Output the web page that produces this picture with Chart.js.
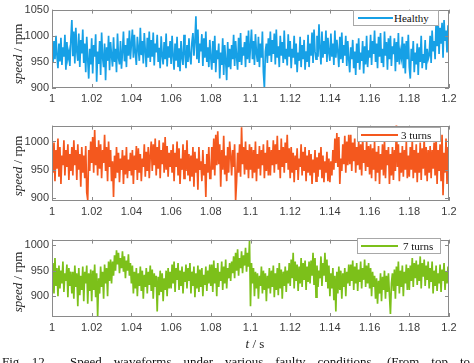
<!DOCTYPE html>
<html>
<head>
<meta charset="utf-8">
<script src="https://cdn.jsdelivr.net/npm/chart.js@4.4.1/dist/chart.umd.min.js"></script>
<style>
html,body{margin:0;padding:0;background:#fff;}
body{width:474px;height:363px;overflow:hidden;position:relative;}
canvas{position:absolute;left:0;display:block;}
.ylab{position:absolute;font-family:"Liberation Serif","Times New Roman",serif;font-size:13px;color:#222;white-space:nowrap;transform:translate(-50%,-50%) rotate(-90deg);}
.leg{position:absolute;background:#fff;border:1px solid #a8a8a8;box-sizing:border-box;}
.leg .ln{position:absolute;height:2px;}
.leg .tx{position:absolute;font-family:"Liberation Serif","Times New Roman",serif;font-size:11px;color:#111;white-space:nowrap;line-height:11px;}
.xlab{position:absolute;font-family:"Liberation Serif","Times New Roman",serif;font-size:13px;color:#222;white-space:nowrap;transform:translate(-50%,-50%);}
.cap{position:absolute;font-family:"Liberation Serif","Times New Roman",serif;font-size:13px;color:#111;white-space:nowrap;line-height:13px;}
</style>
</head>
<body>
<canvas id="c1" width="474" height="112" style="top:0px"></canvas>
<canvas id="c2" width="474" height="109" style="top:116px"></canvas>
<canvas id="c3" width="474" height="111" style="top:230px"></canvas>

<div class="ylab" style="left:18px;top:54px"><i>speed</i> / rpm</div>
<div class="ylab" style="left:18px;top:166px"><i>speed</i> / rpm</div>
<div class="ylab" style="left:18px;top:282px"><i>speed</i> / rpm</div>

<div class="leg" style="left:353px;top:10px;width:86px;height:16px">
  <div class="ln" style="left:4px;top:6px;width:35px;background:#16a0e6"></div>
  <div class="tx" style="left:40px;top:2px">Healthy</div>
</div>
<div class="leg" style="left:357px;top:127px;width:84px;height:15px">
  <div class="ln" style="left:3px;top:6px;width:37px;background:#f4581e"></div>
  <div class="tx" style="left:43px;top:2px">3 turns</div>
</div>
<div class="leg" style="left:357px;top:238px;width:84px;height:16px">
  <div class="ln" style="left:3px;top:6px;width:37px;background:#7cc01a"></div>
  <div class="tx" style="left:45px;top:2px">7 turns</div>
</div>

<div class="xlab" style="left:255px;top:344px"><i>t</i> / s</div>
<div class="cap" style="left:2px;top:355px;word-spacing:6px">Fig. 12</div>
<div class="cap" id="capMain" style="left:70px;top:355px">Speed waveforms under various faulty conditions. (From top to</div>

<script>
// ---- data ----
const t0 = 1.0, dt = 0.0005, nSamples = 401;
const xTickValues = [1, 1.02, 1.04, 1.06, 1.08, 1.1, 1.12, 1.14, 1.16, 1.18, 1.2];
const xTickLabels = ['1', '1.02', '1.04', '1.06', '1.08', '1.1', '1.12', '1.14', '1.16', '1.18', '1.2'];
const seriesNames = ['Healthy', '3 turns', '7 turns'];
const yTicksHealthy = [900, 950, 1000, 1050];
const yTicks3 = [900, 950, 1000];
const yTicks7 = [900, 950, 1000];

const healthy = [
 972,948,990,955,1000,962,938,985,951,996,944,978,960,1002,935,988,957,969,942,993,
 1030,961,1008,947,1015,970,952,1004,940,992,966,1012,948,985,930,998,955,918,975,945,
 995,928,982,960,1003,912,970,946,990,925,1006,958,940,985,915,978,952,1000,934,988,
 962,941,997,950,975,930,1004,958,945,990,937,968,1008,951,982,940,995,962,1010,955,
 985,1012,958,1002,966,944,998,975,952,1015,963,990,947,1005,971,940,996,958,1008,950,
 992,960,1006,943,985,968,1002,950,977,938,999,962,945,988,955,1004,941,980,958,990,
 946,1000,961,935,985,952,998,940,976,932,990,958,944,1002,966,938,982,950,995,960,
 945,988,1005,962,990,1037,955,1012,948,985,970,1003,942,995,958,1008,950,978,940,992,
 957,935,990,948,1000,930,972,955,985,918,968,944,995,925,982,952,915,988,940,975,
 936,982,955,1002,942,990,960,935,996,950,1005,944,978,962,988,940,1000,955,1010,948,
 980,1012,955,990,944,1003,966,950,998,940,985,958,1008,930,900,970,985,948,995,962,
 1008,950,992,965,1004,945,1012,958,980,940,1000,962,988,948,1010,955,975,943,1003,960,
 990,938,975,958,1000,945,985,930,968,952,998,940,982,955,992,935,970,950,1002,940,
 985,962,1006,948,1012,970,955,1000,960,1022,975,945,1008,958,990,965,1010,950,996,968,
 952,1004,960,985,944,1010,958,992,970,940,998,955,1006,948,982,962,1000,942,990,955,
 930,978,955,992,938,970,925,985,948,995,935,968,952,990,928,980,945,1000,940,972,
 958,1002,944,990,965,1010,950,985,938,998,960,1005,948,975,940,1008,962,988,935,995,
 955,1000,942,980,965,995,932,988,950,1005,945,970,958,998,938,985,928,990,955,1002,
 940,918,975,952,990,930,968,945,985,925,978,950,1000,938,965,948,992,935,975,955,
 962,1000,948,1010,970,990,955,1028,980,1035,965,1015,985,1025,958,1030,990,1010,968,1020,
 975
];
const turns3 = [
 960,945,998,930,985,952,1005,938,990,925,975,958,1002,940,985,955,995,932,978,948,
 990,940,1002,958,985,932,995,950,978,920,990,945,975,935,992,910,897,985,948,1000,
 962,1008,945,1020,958,990,940,1002,952,995,935,985,962,1012,948,990,930,1000,955,985,
 930,965,902,975,935,990,945,980,928,970,950,985,925,975,942,990,935,968,948,980,
 940,985,925,975,950,992,932,988,945,978,930,970,955,995,938,982,948,990,935,975,
 1000,948,995,958,1005,940,990,952,1002,935,985,960,998,945,1008,950,992,938,980,955,
 985,945,995,930,980,955,1000,940,988,925,970,950,995,935,985,948,1002,940,978,930,
 975,938,990,920,982,945,970,915,990,950,965,930,985,940,960,902,978,945,990,935,
 935,990,950,1005,940,1012,958,1018,960,995,920,985,950,1010,942,975,930,990,945,1000,
 975,940,985,955,995,895,930,980,945,995,938,1025,960,990,942,1000,950,985,935,995,
 950,990,935,985,945,1000,930,978,952,992,940,985,958,995,935,980,948,1002,940,990,
 940,985,958,1002,945,995,960,1010,950,985,935,1005,955,990,945,998,962,1012,950,988,
 935,990,945,980,928,975,950,988,932,970,955,995,940,982,948,990,930,975,945,985,
 940,978,925,968,945,985,930,972,938,980,950,990,935,975,928,965,945,982,930,970,
 928,965,940,985,950,1005,962,1015,955,1008,925,970,948,995,960,1010,945,1000,958,1012,
 960,1012,948,998,965,1005,945,990,958,1002,950,995,940,1008,962,985,948,1000,955,992,
 942,995,935,988,950,1000,930,982,945,992,925,978,950,995,940,1002,935,985,958,990,
 925,978,940,990,932,985,948,1035,955,995,930,980,945,992,938,985,950,1000,935,975,
 938,990,950,1002,935,985,945,995,928,980,945,998,932,988,952,1005,940,990,930,985,
 945,992,935,985,952,998,940,1010,925,985,948,995,930,1012,905,980,945,1005,925,990,
 950
];
const turns7 = [
 930,965,905,975,920,955,900,960,915,950,925,968,908,945,930,962,898,955,920,948,
 905,948,895,960,918,945,880,955,902,940,912,958,890,948,925,960,885,945,910,952,
 890,950,912,962,898,945,860,935,905,958,918,948,895,962,925,955,900,968,930,972,
 925,968,940,980,950,990,962,985,945,975,955,988,948,978,935,970,950,982,940,965,
 925,960,905,948,915,955,900,945,920,958,910,950,895,942,918,955,905,948,922,960,
 910,952,895,945,918,940,870,938,902,950,908,945,890,935,912,950,900,955,915,948,
 915,962,925,968,908,955,932,965,912,950,920,958,905,948,928,962,915,955,930,965,
 905,948,920,958,898,945,915,960,908,952,918,955,900,942,922,958,910,950,925,962,
 920,962,908,970,925,955,900,965,918,948,930,968,912,958,925,972,915,955,935,965,
 930,968,945,978,935,985,950,992,940,975,955,988,945,980,960,995,948,985,958,1008,
 880,965,925,955,900,948,915,945,895,940,920,958,905,950,912,945,890,940,915,955,
 905,950,918,960,898,945,912,955,902,965,915,952,895,948,920,958,908,950,925,965,
 920,972,935,985,915,968,930,962,910,958,925,975,918,965,932,970,912,958,928,968,
 925,970,940,985,922,975,898,960,918,950,935,978,920,965,940,985,928,972,915,960,
 900,945,915,955,892,940,870,948,905,958,912,950,895,945,918,955,900,948,925,962,
 920,962,930,970,912,958,925,965,910,952,928,968,915,955,932,972,918,960,925,965,
 915,955,900,948,918,940,895,935,885,930,905,945,890,938,912,950,895,940,908,945,
 902,865,925,945,910,952,895,958,920,968,905,950,918,960,900,948,925,962,912,955,
 912,960,930,975,918,965,935,970,922,962,930,978,915,965,938,972,920,960,932,968,
 915,955,928,968,905,950,920,960,910,945,925,962,908,952,930,965,912,948,925,958,
 930
];

// ---- caption justification (layout only) ----
(function () {
  const cap = document.getElementById('capMain');
  const natural = cap.getBoundingClientRect().width;
  const spaces = (cap.textContent.match(/ /g) || []).length;
  const target = 400;
  cap.style.wordSpacing = ((target - natural) / spaces).toFixed(2) + 'px';
})();

// ---- drawing ----
const times = Array.from({length: nSamples}, (_, i) => +(t0 + i * dt).toFixed(4));

const boxPlugin = {
  id: 'matlabBox',
  afterDatasetsDraw(chart) {
    const {ctx, chartArea: a, scales: {x, y}} = chart;
    ctx.save();
    ctx.strokeStyle = '#8a8a8a';
    ctx.lineWidth = 1;
    ctx.strokeRect(Math.round(a.left) + 0.5, Math.round(a.top) + 0.5,
                   Math.round(a.right - a.left) - 1, Math.round(a.bottom - a.top) - 1);
    ctx.beginPath();
    x.ticks.forEach(t => {
      const px = Math.round(x.getPixelForValue(t.value)) + 0.5;
      ctx.moveTo(px, a.bottom); ctx.lineTo(px, a.bottom - 4);
      ctx.moveTo(px, a.top); ctx.lineTo(px, a.top + 4);
    });
    y.ticks.forEach(t => {
      const py = Math.round(y.getPixelForValue(t.value)) + 0.5;
      ctx.moveTo(a.left, py); ctx.lineTo(a.left + 4, py);
      ctx.moveTo(a.right, py); ctx.lineTo(a.right - 4, py);
    });
    ctx.stroke();
    ctx.restore();
  }
};

function makeChart(id, values, name, color, yMin, yMax, yTicks, xAxisH) {
  const ctx = document.getElementById(id);
  return new Chart(ctx, {
    type: 'line',
    data: {
      datasets: [{
        label: name,
        data: values.map((v, i) => ({x: times[i], y: v})),
        borderColor: color,
        backgroundColor: color,
        borderWidth: 1.7,
        pointRadius: 0,
        tension: 0,
        clip: 0
      }]
    },
    options: {
      responsive: false,
      animation: false,
      devicePixelRatio: 1,
      layout: {padding: {top: 5, left: 0, right: 25, bottom: 0}},
      plugins: {legend: {display: false}, tooltip: {enabled: false}},
      scales: {
        x: {
          type: 'linear', min: 1, max: 1.2,
          afterBuildTicks: s => { s.ticks = xTickValues.map(v => ({value: v})); },
          afterFit: s => { s.height = xAxisH; },
          grid: {display: false, drawTicks: false},
          border: {display: false},
          ticks: {
            autoSkip: false, maxRotation: 0, padding: 4,
            color: '#3a3a3a',
            font: {family: 'Liberation Sans, Arial, sans-serif', size: 11},
            callback: (v, i) => xTickLabels[i]
          }
        },
        y: {
          type: 'linear', min: yMin, max: yMax,
          afterBuildTicks: s => { s.ticks = yTicks.map(v => ({value: v})); },
          afterFit: s => { s.width = 52; },
          grid: {display: false, drawTicks: false},
          border: {display: false},
          ticks: {
            padding: 3,
            color: '#3a3a3a',
            font: {family: 'Liberation Sans, Arial, sans-serif', size: 11},
            callback: v => String(v)
          }
        }
      }
    },
    plugins: [boxPlugin]
  });
}

makeChart('c1', healthy, seriesNames[0], '#16a0e6', 900, 1050, yTicksHealthy, 24);
makeChart('c2', turns3, seriesNames[1], '#f4581e', 895, 1028, yTicks3, 24);
makeChart('c3', turns7, seriesNames[2], '#7cc01a', 859, 1011, yTicks7, 24);
</script>
</body>
</html>
